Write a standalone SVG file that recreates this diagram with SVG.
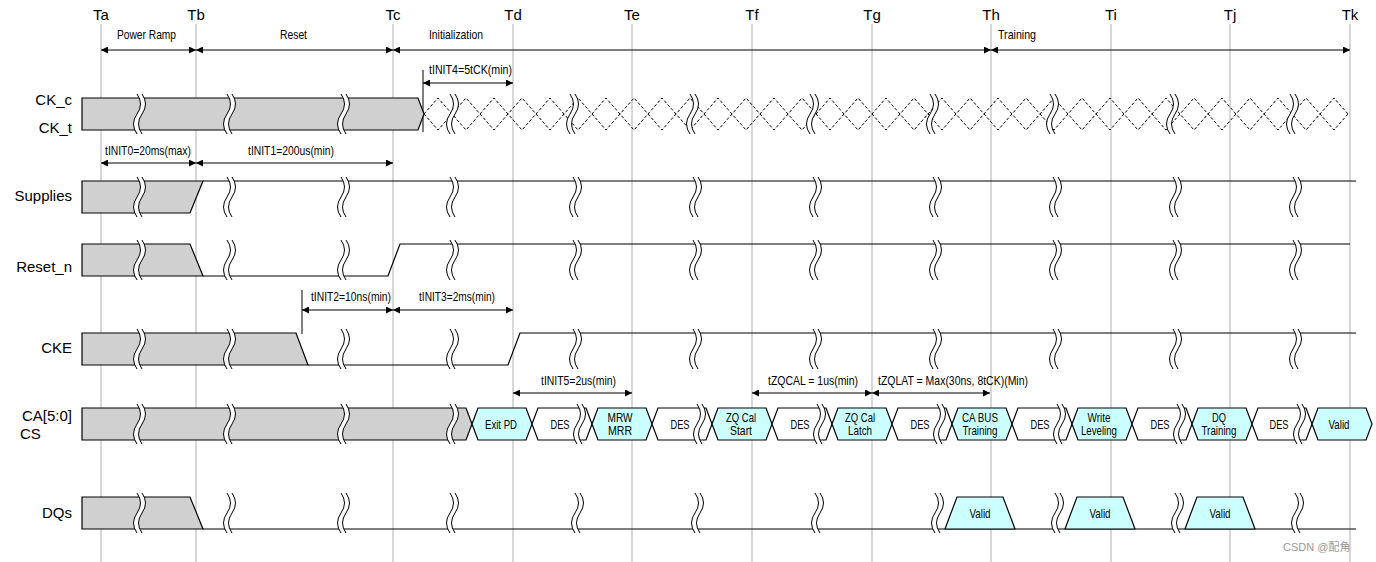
<svg xmlns="http://www.w3.org/2000/svg" xmlns:xlink="http://www.w3.org/1999/xlink" width="1376" height="562" viewBox="0 0 1376 562">
<style>
text{font-family:"Liberation Sans",Arial,sans-serif;fill:#000}
.t{font-size:15px;text-anchor:middle}
.a{font-size:13px;text-anchor:middle}
.s{font-size:13px}
.r{font-size:15px;text-anchor:end}
.c{font-size:13px;text-anchor:middle}
.vl{stroke:#b0b0b0;stroke-width:1}
.ln{stroke:#000;stroke-width:1.2;fill:none}
.g{fill:#d0d0d0;stroke:#000;stroke-width:1.2}
.cy{fill:#ccffff;stroke:#000;stroke-width:1.2}
.w{fill:#fff;stroke:#000;stroke-width:1.2}
.ar{stroke:#000;stroke-width:1.2;marker-start:url(#ah);marker-end:url(#ah)}
.ck{stroke:#000;stroke-width:1;fill:none;stroke-dasharray:3 2}
</style>
<defs>
<marker id="ah" viewBox="0 0 10 10" refX="10" refY="5" markerWidth="10" markerHeight="7" orient="auto-start-reverse" markerUnits="userSpaceOnUse"><path d="M0,0 L10,5 L0,10 z" fill="#000"/></marker>
<g id="brk"><path d="M-5,-20 q7,10 0,20 q-7,10 0,20 L0,20 q-7,-10 0,-20 q7,-10 0,-20 z" fill="#fff" stroke="none"/><path d="M-5,-20 q7,10 0,20 q-7,10 0,20 M0,-20 q7,10 0,20 q-7,10 0,20" fill="none" stroke="#000" stroke-width="1"/></g>
</defs>
<rect width="1376" height="562" fill="#fff"/>
<g id="gridlines">
<line class="vl" x1="101" y1="24" x2="101" y2="562"/><line class="vl" x1="196" y1="24" x2="196" y2="562"/><line class="vl" x1="393" y1="24" x2="393" y2="562"/><line class="vl" x1="513" y1="24" x2="513" y2="562"/><line class="vl" x1="632" y1="24" x2="632" y2="562"/><line class="vl" x1="752" y1="24" x2="752" y2="562"/><line class="vl" x1="872" y1="24" x2="872" y2="562"/><line class="vl" x1="991" y1="24" x2="991" y2="562"/><line class="vl" x1="1111" y1="24" x2="1111" y2="562"/><line class="vl" x1="1230" y1="24" x2="1230" y2="562"/><line class="vl" x1="1350" y1="24" x2="1350" y2="562"/>
</g>
<g id="timelabels">
<text class="t" x="101" y="20">Ta</text><text class="t" x="196" y="20">Tb</text><text class="t" x="393" y="20">Tc</text><text class="t" x="513" y="20">Td</text><text class="t" x="632" y="20">Te</text><text class="t" x="752" y="20">Tf</text><text class="t" x="872" y="20">Tg</text><text class="t" x="991" y="20">Th</text><text class="t" x="1111" y="20">Ti</text><text class="t" x="1230" y="20">Tj</text><text class="t" x="1350" y="20">Tk</text>
</g>
<g id="connectors">
<line class="ar" x1="101" y1="50" x2="196" y2="50"/><line class="ar" x1="196" y1="50" x2="393" y2="50"/><line class="ar" x1="393" y1="50" x2="991" y2="50"/><line class="ar" x1="991" y1="50" x2="1350" y2="50"/>
<line class="ar" x1="423" y1="83" x2="513" y2="83"/><line stroke="#000" x1="423" y1="70" x2="423" y2="132"/>
<line class="ar" x1="101" y1="163" x2="196" y2="163"/><line class="ar" x1="196" y1="163" x2="393" y2="163"/>
<line class="ar" x1="302" y1="310" x2="393" y2="310"/><line stroke="#000" x1="302" y1="290" x2="302" y2="334"/><line class="ar" x1="393" y1="310" x2="513" y2="310"/>
<line class="ar" x1="513" y1="393" x2="632" y2="393"/><line class="ar" x1="752" y1="393" x2="872" y2="393"/><line class="ar" x1="872" y1="393" x2="990" y2="393"/>
</g>
<g id="annotations" style="font-size:13px">
<text class="s" x="117" y="39" textLength="59" lengthAdjust="spacingAndGlyphs">Power Ramp</text>
<text class="s" x="280" y="39" textLength="27" lengthAdjust="spacingAndGlyphs">Reset</text>
<text class="s" x="429" y="39" textLength="54" lengthAdjust="spacingAndGlyphs">Initialization</text>
<text class="s" x="998" y="39" textLength="38" lengthAdjust="spacingAndGlyphs">Training</text>
<text class="s" x="429" y="74" textLength="83" lengthAdjust="spacingAndGlyphs">tINIT4=5tCK(min)</text>
<text class="s" x="105" y="155" textLength="86" lengthAdjust="spacingAndGlyphs">tINIT0=20ms(max)</text>
<text class="s" x="248" y="155" textLength="86" lengthAdjust="spacingAndGlyphs">tINIT1=200us(min)</text>
<text class="s" x="311" y="301" textLength="80" lengthAdjust="spacingAndGlyphs">tINIT2=10ns(min)</text>
<text class="s" x="419" y="301" textLength="76" lengthAdjust="spacingAndGlyphs">tINIT3=2ms(min)</text>
<text class="s" x="541" y="385" textLength="75" lengthAdjust="spacingAndGlyphs">tINIT5=2us(min)</text>
<text class="s" x="768" y="385" textLength="90" lengthAdjust="spacingAndGlyphs">tZQCAL = 1us(min)</text>
<text class="s" x="878" y="385" textLength="150" lengthAdjust="spacingAndGlyphs">tZQLAT = Max(30ns, 8tCK)(Min)</text>
</g>
<g id="ck">
<text class="r" x="72" y="105">CK_c</text><text class="r" x="72" y="133">CK_t</text>
<path class="g" d="M82,98 H418 L424,114 L418,130 H82 Z"/>
<polyline class="ck" points="424,114 438,130 466,98 494,130 522,98 550,130 578,98 606,130 634,98 662,130 690,98 718,130 746,98 774,130 802,98 830,130 858,98 886,130 914,98 942,130 970,98 998,130 1026,98 1054,130 1082,98 1110,130 1138,98 1166,130 1194,98 1222,130 1250,98 1278,130 1306,98 1334,130 1348,114"/>
<polyline class="ck" points="424,114 438,98 466,130 494,98 522,130 550,98 578,130 606,98 634,130 662,98 690,130 718,98 746,130 774,98 802,130 830,98 858,130 886,98 914,130 942,98 970,130 998,98 1026,130 1054,98 1082,130 1110,98 1138,130 1166,98 1194,130 1222,98 1250,130 1278,98 1306,130 1334,98 1348,114"/>
<use xlink:href="#brk" x="142" y="114"/><use xlink:href="#brk" x="232" y="114"/><use xlink:href="#brk" x="346" y="114"/><use xlink:href="#brk" x="455" y="114"/><use xlink:href="#brk" x="575" y="114"/><use xlink:href="#brk" x="695" y="114"/><use xlink:href="#brk" x="815" y="114"/><use xlink:href="#brk" x="935" y="114"/><use xlink:href="#brk" x="1055" y="114"/><use xlink:href="#brk" x="1175" y="114"/><use xlink:href="#brk" x="1295" y="114"/>
</g>
<g id="supplies">
<text class="r" x="72" y="201">Supplies</text>
<path class="g" d="M82,181 H203 L190,213 H82 Z"/><line class="ln" x1="203" y1="181" x2="1356" y2="181"/>
<use xlink:href="#brk" x="142" y="197"/><use xlink:href="#brk" x="232" y="197"/><use xlink:href="#brk" x="346" y="197"/><use xlink:href="#brk" x="455" y="197"/><use xlink:href="#brk" x="578" y="197"/><use xlink:href="#brk" x="698" y="197"/><use xlink:href="#brk" x="818" y="197"/><use xlink:href="#brk" x="938" y="197"/><use xlink:href="#brk" x="1058" y="197"/><use xlink:href="#brk" x="1178" y="197"/><use xlink:href="#brk" x="1298" y="197"/>
</g>
<g id="reset_n">
<text class="r" x="72" y="272">Reset_n</text>
<path class="g" d="M82,244 H190 L203,276 H82 Z"/><polyline class="ln" points="203,276 388,276 400,244 1350,244"/>
<use xlink:href="#brk" x="142" y="260"/><use xlink:href="#brk" x="232" y="260"/><use xlink:href="#brk" x="346" y="260"/><use xlink:href="#brk" x="455" y="260"/><use xlink:href="#brk" x="578" y="260"/><use xlink:href="#brk" x="698" y="260"/><use xlink:href="#brk" x="818" y="260"/><use xlink:href="#brk" x="938" y="260"/><use xlink:href="#brk" x="1058" y="260"/><use xlink:href="#brk" x="1178" y="260"/><use xlink:href="#brk" x="1298" y="260"/>
</g>
<g id="cke">
<text class="r" x="72" y="353">CKE</text>
<path class="g" d="M82,333 H296 L308,365 H82 Z"/><polyline class="ln" points="308,365 508,365 520,333 1356,333"/>
<use xlink:href="#brk" x="142" y="349"/><use xlink:href="#brk" x="232" y="349"/><use xlink:href="#brk" x="346" y="349"/><use xlink:href="#brk" x="455" y="349"/><use xlink:href="#brk" x="578" y="349"/><use xlink:href="#brk" x="698" y="349"/><use xlink:href="#brk" x="818" y="349"/><use xlink:href="#brk" x="938" y="349"/><use xlink:href="#brk" x="1058" y="349"/><use xlink:href="#brk" x="1178" y="349"/><use xlink:href="#brk" x="1298" y="349"/>
</g>
<g id="ca">
<text class="r" x="72" y="421">CA[5:0]</text><text x="20" y="439" style="font-size:15px">CS</text>
<path class="g" d="M82,408 H466 L472,424 L466,440 H82 Z"/>
<path class="cy" d="M472,424 L478,408 H526 L532,424 L526,440 H478 Z"/><text class="c" x="501" y="429" textLength="32" lengthAdjust="spacingAndGlyphs">Exit PD</text>
<path class="w" d="M532,424 L538,408 H586 L592,424 L586,440 H538 Z"/><text class="c" x="560" y="429" textLength="19" lengthAdjust="spacingAndGlyphs">DES</text>
<path class="cy" d="M592,424 L598,408 H646 L652,424 L646,440 H598 Z"/><text class="c" x="620" y="422" textLength="25" lengthAdjust="spacingAndGlyphs">MRW</text><text class="c" x="620" y="435" textLength="24" lengthAdjust="spacingAndGlyphs">MRR</text>
<path class="w" d="M652,424 L658,408 H706 L712,424 L706,440 H658 Z"/><text class="c" x="680" y="429" textLength="19" lengthAdjust="spacingAndGlyphs">DES</text>
<path class="cy" d="M712,424 L718,408 H766 L772,424 L766,440 H718 Z"/><text class="c" x="741" y="422" textLength="30" lengthAdjust="spacingAndGlyphs">ZQ Cal</text><text class="c" x="741" y="435" textLength="22" lengthAdjust="spacingAndGlyphs">Start</text>
<path class="w" d="M772,424 L778,408 H826 L832,424 L826,440 H778 Z"/><text class="c" x="800" y="429" textLength="19" lengthAdjust="spacingAndGlyphs">DES</text>
<path class="cy" d="M832,424 L838,408 H886 L892,424 L886,440 H838 Z"/><text class="c" x="860" y="422" textLength="30" lengthAdjust="spacingAndGlyphs">ZQ Cal</text><text class="c" x="860" y="435" textLength="24" lengthAdjust="spacingAndGlyphs">Latch</text>
<path class="w" d="M892,424 L898,408 H946 L952,424 L946,440 H898 Z"/><text class="c" x="920" y="429" textLength="19" lengthAdjust="spacingAndGlyphs">DES</text>
<path class="cy" d="M952,424 L958,408 H1006 L1012,424 L1006,440 H958 Z"/><text class="c" x="980" y="422" textLength="36" lengthAdjust="spacingAndGlyphs">CA BUS</text><text class="c" x="980" y="435" textLength="35" lengthAdjust="spacingAndGlyphs">Training</text>
<path class="w" d="M1012,424 L1018,408 H1066 L1072,424 L1066,440 H1018 Z"/><text class="c" x="1040" y="429" textLength="19" lengthAdjust="spacingAndGlyphs">DES</text>
<path class="cy" d="M1072,424 L1078,408 H1126 L1132,424 L1126,440 H1078 Z"/><text class="c" x="1099" y="422" textLength="23" lengthAdjust="spacingAndGlyphs">Write</text><text class="c" x="1099" y="435" textLength="36" lengthAdjust="spacingAndGlyphs">Leveling</text>
<path class="w" d="M1132,424 L1138,408 H1186 L1192,424 L1186,440 H1138 Z"/><text class="c" x="1160" y="429" textLength="19" lengthAdjust="spacingAndGlyphs">DES</text>
<path class="cy" d="M1192,424 L1198,408 H1246 L1252,424 L1246,440 H1198 Z"/><text class="c" x="1219" y="422" textLength="14" lengthAdjust="spacingAndGlyphs">DQ</text><text class="c" x="1219" y="435" textLength="35" lengthAdjust="spacingAndGlyphs">Training</text>
<path class="w" d="M1252,424 L1258,408 H1306 L1312,424 L1306,440 H1258 Z"/><text class="c" x="1279" y="429" textLength="19" lengthAdjust="spacingAndGlyphs">DES</text>
<path class="cy" d="M1312,424 L1318,408 H1366 L1372,424 L1366,440 H1318 Z"/><text class="c" x="1339" y="429" textLength="21" lengthAdjust="spacingAndGlyphs">Valid</text>
<use xlink:href="#brk" x="142" y="424"/><use xlink:href="#brk" x="232" y="424"/><use xlink:href="#brk" x="346" y="424"/><use xlink:href="#brk" x="455" y="424"/><use xlink:href="#brk" x="582" y="424"/><use xlink:href="#brk" x="702" y="424"/><use xlink:href="#brk" x="822" y="424"/><use xlink:href="#brk" x="942" y="424"/><use xlink:href="#brk" x="1062" y="424"/><use xlink:href="#brk" x="1182" y="424"/><use xlink:href="#brk" x="1302" y="424"/>
</g>
<g id="dqs">
<text class="r" x="72" y="518">DQs</text>
<path class="g" d="M82,497 H190 L203,529 H82 Z"/><line class="ln" x1="203" y1="529" x2="1356" y2="529"/>
<use xlink:href="#brk" x="142" y="513"/><use xlink:href="#brk" x="232" y="513"/><use xlink:href="#brk" x="346" y="513"/><use xlink:href="#brk" x="455" y="513"/><use xlink:href="#brk" x="580" y="513"/><use xlink:href="#brk" x="700" y="513"/><use xlink:href="#brk" x="820" y="513"/><use xlink:href="#brk" x="940" y="513"/><use xlink:href="#brk" x="1060" y="513"/><use xlink:href="#brk" x="1180" y="513"/><use xlink:href="#brk" x="1300" y="513"/>
<path class="cy" d="M945,529 L957,497 H1003 L1015,529 Z"/><text class="c" x="980" y="518" textLength="21" lengthAdjust="spacingAndGlyphs">Valid</text>
<path class="cy" d="M1065,529 L1077,497 H1123 L1135,529 Z"/><text class="c" x="1100" y="518" textLength="21" lengthAdjust="spacingAndGlyphs">Valid</text>
<path class="cy" d="M1185,529 L1197,497 H1243 L1255,529 Z"/><text class="c" x="1220" y="518" textLength="21" lengthAdjust="spacingAndGlyphs">Valid</text>
</g>
<text x="1283" y="551" style="font-family:'Liberation Sans','Noto Sans CJK SC',sans-serif;font-size:11px;fill:#999">CSDN @配角</text>
</svg>
